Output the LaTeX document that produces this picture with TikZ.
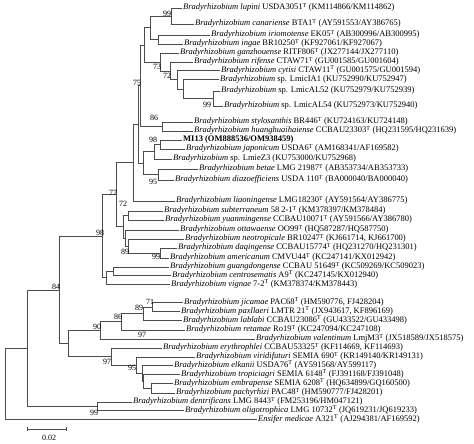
\documentclass[tikz,border=0pt]{standalone}
\usepackage{fontspec}
\setmainfont{Liberation Serif}
\newcommand{\Br}[1]{\textit{Bradyrhizobium #1}}
\newcommand{\Ty}{\textsuperscript{T}}
\tikzset{
  br/.style={draw=black!70, line width=0.55pt},
  lf/.style={anchor=west, inner xsep=1pt, inner ysep=0pt, font=\fontsize{8.5}{9}\selectfont, text height=5.6pt, text depth=1.7pt},
  bs/.style={inner sep=0pt, font=\fontsize{8}{9}\selectfont},
}
\begin{document}
\begin{tikzpicture}[x=1pt,y=-1pt]
\useasboundingbox (0,0) rectangle (474,444);
% ---------- internal nodes ----------
\coordinate (R0) at (5,383.8);
\coordinate (N27) at (27,348.1);
\coordinate (T) at (59,289.8);
\coordinate (S) at (102,236.1);
\coordinate (I) at (116,194.7);
\coordinate (H) at (133,162.6);
\coordinate (G) at (138,124.25);
\coordinate (E) at (140,85.6);
\coordinate (A) at (144,44.85);
\coordinate (B) at (150,27.75);
\coordinate (N99a) at (171,16);
\coordinate (C) at (158,39.5);
\coordinate (D) at (160,61.95);
\coordinate (N73) at (170,70.9);
\coordinate (N72) at (177,79.75);
\coordinate (Nlm) at (183,89);
\coordinate (Nal) at (213,98.5);
\coordinate (N86) at (162,126.5);
\coordinate (F) at (143,163);
\coordinate (Nz3) at (154,151.75);
\coordinate (N98b) at (160,144.5);
\coordinate (N95) at (158,174.5);
\coordinate (N72b) at (123,226.75);
\coordinate (Nsy) at (128,215.5);
\coordinate (M) at (125,238);
\coordinate (L) at (128,246);
\coordinate (K) at (160,253);
\coordinate (R) at (106,277.5);
\coordinate (Q) at (113,271);
\coordinate (U) at (68,343.5);
\coordinate (Y) at (100,330.4);
\coordinate (X) at (121,321.75);
\coordinate (W) at (143,313.5);
\coordinate (V) at (152,307);
\coordinate (Z) at (111,356.5);
\coordinate (N95c) at (136,365);
\coordinate (Nel) at (142,373);
\coordinate (Nt) at (143,381);
\coordinate (Nep) at (151,388);
\coordinate (N99b) at (97,406.25);
% ---------- leaf tips ----------
\coordinate (t1) at (182,8);
\coordinate (t2) at (194,24);
\coordinate (t3) at (210,35);
\coordinate (t4) at (183,44);
\coordinate (t5) at (179,53);
\coordinate (t6) at (193,62);
\coordinate (t7) at (220,70.5);
\coordinate (t8) at (219,79.5);
\coordinate (t9) at (220,91);
\coordinate (t10) at (223,106);
\coordinate (t11) at (193,122);
\coordinate (t12) at (193,131);
\coordinate (t13) at (182,140);
\coordinate (t14) at (185,149);
\coordinate (t15) at (172,159);
\coordinate (t16) at (198,169);
\coordinate (t17) at (174,180);
\coordinate (t18) at (175,201);
\coordinate (t19) at (163,211);
\coordinate (t20) at (164,220);
\coordinate (t21) at (179,230);
\coordinate (t22) at (184,239);
\coordinate (t23) at (177,248);
\coordinate (t24) at (169,258);
\coordinate (t25) at (169,267);
\coordinate (t26) at (171,275.5);
\coordinate (t27) at (170,284.5);
\coordinate (t28) at (183,302.5);
\coordinate (t29) at (180,311.5);
\coordinate (t30) at (182,320.5);
\coordinate (t31) at (185,330);
\coordinate (t32) at (255,339);
\coordinate (t33) at (162,348);
\coordinate (t34) at (195,357);
\coordinate (t35) at (173,365.5);
\coordinate (t36) at (180,374.5);
\coordinate (t37) at (173,383.5);
\coordinate (t38) at (175,393);
\coordinate (t39) at (132,402);
\coordinate (t40) at (184,410.5);
\coordinate (t41) at (257,419.5);
% ---------- branches ----------
\draw[br] (R0) |- (N27);  \draw[br] (R0) |- (t41);
\draw[br] (N27) |- (T);   \draw[br] (N27) |- (N99b);
\draw[br] (N99b) |- (t39); \draw[br] (N99b) |- (t40);
\draw[br] (T) |- (S);     \draw[br] (T) |- (U);
\draw[br] (S) |- (I);     \draw[br] (S) |- (R);
\draw[br] (I) |- (H);     \draw[br] (I) |- (N72b);
\draw[br] (H) |- (G);     \draw[br] (H) |- (t18);
\draw[br] (G) |- (E);     \draw[br] (G) |- (F);
\draw[br] (E) |- (A);     \draw[br] (E) |- (N86);
\draw[br] (A) |- (B);     \draw[br] (A) |- (D);
\draw[br] (B) |- (N99a);  \draw[br] (B) |- (C);
\draw[br] (N99a) |- (t1); \draw[br] (N99a) |- (t2);
\draw[br] (C) |- (t3);    \draw[br] (C) |- (t4);
\draw[br] (D) |- (t5);    \draw[br] (D) |- (N73);
\draw[br] (N73) |- (t6);  \draw[br] (N73) |- (N72);
\draw[br] (N72) |- (t7);  \draw[br] (N72) |- (Nlm);
\draw[br] (Nlm) |- (t8);  \draw[br] (Nlm) |- (Nal);
\draw[br] (Nal) |- (t9);  \draw[br] (Nal) |- (t10);
\draw[br] (N86) |- (t11); \draw[br] (N86) |- (t12);
\draw[br] (F) |- (Nz3);   \draw[br] (F) |- (N95);
\draw[br] (Nz3) |- (N98b); \draw[br] (Nz3) |- (t15);
\draw[br] (N98b) |- (t13); \draw[br] (N98b) |- (t14);
\draw[br] (N95) |- (t16); \draw[br] (N95) |- (t17);
\draw[br] (N72b) |- (Nsy); \draw[br] (N72b) |- (M);
\draw[br] (Nsy) |- (t19); \draw[br] (Nsy) |- (t20);
\draw[br] (M) |- (t21);   \draw[br] (M) |- (L);
\draw[br] (L) |- (t22);   \draw[br] (L) |- (K);
\draw[br] (K) |- (t23);   \draw[br] (K) |- (t24);
\draw[br] (R) |- (Q);     \draw[br] (R) |- (t27);
\draw[br] (Q) |- (t25);   \draw[br] (Q) |- (t26);
\draw[br] (U) |- (Y);     \draw[br] (U) |- (Z);
\draw[br] (Y) |- (X);     \draw[br] (Y) |- (t32);
\draw[br] (X) |- (W);     \draw[br] (X) |- (t31);
\draw[br] (W) |- (V);     \draw[br] (W) |- (t30);
\draw[br] (V) |- (t28);   \draw[br] (V) |- (t29);
\draw[br] (Z) |- (t33);   \draw[br] (Z) |- (N95c);
\draw[br] (N95c) |- (t34); \draw[br] (N95c) |- (Nel);
\draw[br] (Nel) |- (t35); \draw[br] (Nel) |- (Nt);
\draw[br] (Nt) |- (t36);  \draw[br] (Nt) |- (Nep);
\draw[br] (Nep) |- (t37); \draw[br] (Nep) |- (t38);
% ---------- leaf labels ----------
\node[lf] (L1) at (t1) {\Br{lupini} USDA3051\Ty{} (KM114866/KM114862)};
\node[lf] (L2) at (t2) {\Br{canariense} BTA1\Ty{} (AY591553/AY386765)};
\node[lf] (L3) at (t3) {\Br{iriomotense} EK05\Ty{} (AB300996/AB300995)};
\node[lf] (L4) at (t4) {\Br{ingae} BR10250\Ty{} (KF927061/KF927067)};
\node[lf] (L5) at (t5) {\Br{ganzhouense} RITF806\Ty{} (JX277144/JX277110)};
\node[lf] (L6) at (t6) {\Br{rifense} CTAW71\Ty{} (GU001585/GU001604)};
\node[lf] (L7) at (t7) {\Br{cytisi} CTAW11\Ty{} (GU001575/GU001594)};
\node[lf] (L8) at (t8) {\textit{Bradyrhizobium} sp. LmicIA1 (KU752990/KU752947)};
\node[lf] (L9) at (t9) {\textit{Bradyrhizobium} sp. LmicAL52 (KU752979/KU752939)};
\node[lf] (L10) at (t10) {\textit{Bradyrhizobium} sp. LmicAL54 (KU752973/KU752940)};
\node[lf] (L11) at (t11) {\Br{stylosanthis} BR446\Ty{} (KU724163/KU724148)};
\node[lf] (L12) at (t12) {\Br{huanghuaihaiense} CCBAU23303\Ty{} (HQ231595/HQ231639)};
\node[lf] (L13) at (t13) {\textbf{MI13 (OM888536/OM938459)}};
\node[lf] (L14) at (t14) {\Br{japonicum} USDA6\Ty{} (AM168341/AF169582)};
\node[lf] (L15) at (t15) {\textit{Bradyrhizobium} sp. LmieZ3 (KU753000/KU752968)};
\node[lf] (L16) at (t16) {\Br{betae} LMG 21987\Ty{} (AB353734/AB353733)};
\node[lf] (L17) at (t17) {\Br{diazoefficiens} USDA 110\Ty{} (BA000040/BA000040)};
\node[lf] (L18) at (t18) {\Br{liaoningense} LMG18230\Ty{} (AY591564/AY386775)};
\node[lf] (L19) at (t19) {\Br{subterraneum} 58 2-1\Ty{} (KM378397/KM378484)};
\node[lf] (L20) at (t20) {\Br{yuanmingense} CCBAU10071\Ty{} (AY591566/AY386780)};
\node[lf] (L21) at (t21) {\Br{ottawaense} OO99\Ty{} (HQ587287/HQ587750)};
\node[lf] (L22) at (t22) {\Br{neotropicale} BR10247\Ty{} (KJ661714, KJ661700)};
\node[lf] (L23) at (t23) {\Br{daqingense} CCBAU15774\Ty{} (HQ231270/HQ231301)};
\node[lf] (L24) at (t24) {\Br{americanum} CMVU44\Ty{} (KC247141/KX012942)};
\node[lf] (L25) at (t25) {\Br{guangdongense} CCBAU 51649\Ty{} (KC509269/KC509023)};
\node[lf] (L26) at (t26) {\Br{centrosematis} A9\Ty{} (KC247145/KX012940)};
\node[lf] (L27) at (t27) {\Br{vignae} 7-2\Ty{} (KM378374/KM378443)};
\node[lf] (L28) at (t28) {\Br{jicamae} PAC68\Ty{} (HM590776, FJ428204)};
\node[lf] (L29) at (t29) {\Br{paxllaeri} LMTR 21\Ty{} (JX943617, KF896169)};
\node[lf] (L30) at (t30) {\Br{lablabi} CCBAU23086\Ty{} (GU433522/GU433498)};
\node[lf] (L31) at (t31) {\Br{retamae} Ro19\Ty{} (KC247094/KC247108)};
\node[lf] (L32) at (t32) {\Br{valentinum} LmjM3\Ty{} (JX518589/JX518575)};
\node[lf] (L33) at (t33) {\Br{erythrophlei} CCBAU53325\Ty{} (KF114669, KF114693)};
\node[lf] (L34) at (t34) {\Br{viridifuturi} SEMIA 690\Ty{} (KR149140/KR149131)};
\node[lf] (L35) at (t35) {\Br{elkanii} USDA76\Ty{} (AY591568/AY599117)};
\node[lf] (L36) at (t36) {\Br{tropiciagri} SEMIA 6148\Ty{} (FJ391168/FJ391048)};
\node[lf] (L37) at (t37) {\Br{embrapense} SEMIA 6208\Ty{} (HQ634899/GQ160500)};
\node[lf] (L38) at (t38) {\Br{pachyrhizi} PAC48\Ty{} (HM590777/FJ428201)};
\node[lf] (L39) at (t39) {\Br{dentrificans} LMG 8443\Ty{} (FM253196/HM047121)};
\node[lf] (L40) at (t40) {\Br{oligotrophica} LMG 10732\Ty{} (JQ619231/JQ619233)};
\node[lf] (L41) at (t41) {\textit{Ensifer medicae} A321\Ty{} (AJ294381/AF169592)};
% ---------- bootstrap values ----------
\node[bs] (b1) at (167,14) {99};
\node[bs] (b2) at (157,67) {73};
\node[bs] (b3) at (167,76) {72};
\node[bs] (b4) at (137,83) {75};
\node[bs] (b5) at (207,105) {99};
\node[bs] (b6) at (154,118) {86};
\node[bs] (b7) at (153,140) {98};
\node[bs] (b8) at (153,182) {95};
\node[bs] (b9) at (113,193) {77};
\node[bs] (b10) at (123,204) {72};
\node[bs] (b11) at (100,233) {98};
\node[bs] (b12) at (125,252) {89};
\node[bs] (b13) at (156,257) {99};
\node[bs] (b14) at (56,287) {84};
\node[bs] (b15) at (150,302) {71};
\node[bs] (b16) at (139,308) {89};
\node[bs] (b17) at (118,317) {86};
\node[bs] (b18) at (97,327) {90};
\node[bs] (b19) at (142,335) {97};
\node[bs] (b20) at (107,362) {97};
\node[bs] (b21) at (132,368) {95};
\node[bs] (b22) at (94,413) {99};
% ---------- scale bar ----------
\coordinate (sb1) at (27,429);
\coordinate (sb2) at (66,429);
\draw[br] (sb1) -- (sb2);
\draw[br] ([yshift=-2pt]sb1) -- ([yshift=2pt]sb1);
\draw[br] ([yshift=-2pt]sb2) -- ([yshift=2pt]sb2);
\node[bs] (sbl) at (49,438) {0.02};
\end{tikzpicture}
\end{document}
